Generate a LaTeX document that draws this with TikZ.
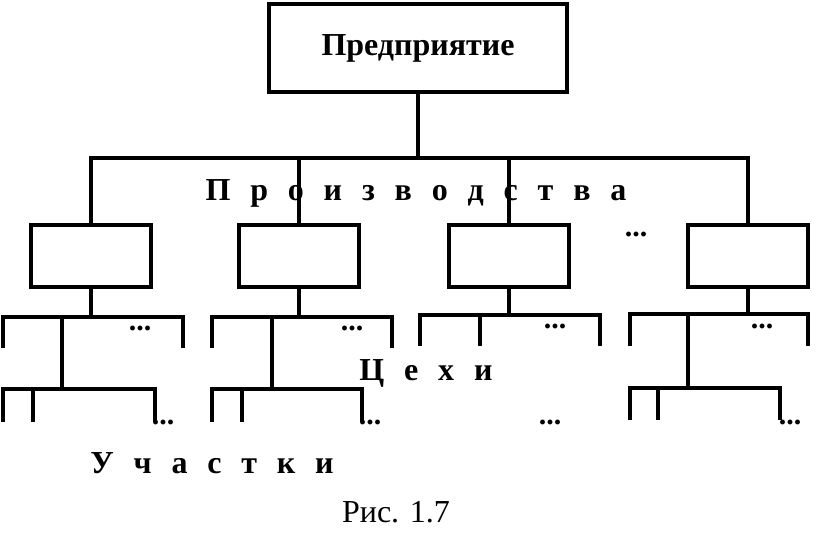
\documentclass[tikz,border=0pt]{standalone}
\usepackage{fontspec}
\setmainfont{Liberation Serif}
\usetikzlibrary{positioning}
\newcommand{\gap}{\hspace{0.62em}}
\tikzset{x=1pt, y=-1pt,
    every path/.style={line width=4pt},
    unit/.style={
        draw,
        line width=4pt,
        minimum width=120pt,
        minimum height=62pt},
    dots/.style={font=\bfseries\fontsize{30}{30}\selectfont, inner sep=0pt},
    level/.style={font=\bfseries\fontsize{32}{34}\selectfont}}

\begin{document}
\begin{tikzpicture}
        \useasboundingbox (0,0) rectangle (823,552);
        \node[draw, line width=4pt, minimum width=298pt, minimum height=88pt,
              font=\bfseries\fontsize{32}{34}\selectfont] (ent) at (418,48) {Предприятие};
        \node[unit] (p1) at (91,256) {};
        \node[unit] (p2) at (299,256) {};
        \node[unit] (p3) at (509,256) {};
        \node[unit] (p4) at (748,256) {};
        \node[dots] (pd) at (636,234) {...};
        % bus under the enterprise
        \draw (ent.south) -- (418,158);
        \draw (p1.north) -- (91,158) -- (748,158) -- (p4.north);
        \draw (p2.north) -- (299,158);
        \draw (p3.north) -- (509,158);
        \node[level] (prod) at (416,193) {П\gap р\gap о\gap и\gap з\gap в\gap о\gap д\gap с\gap т\gap в\gap а};
        % shops
        \draw (p1.south) -- (91,317);
        \draw (3,348) -- (3,317) -- (183,317) -- (183,348);
        \draw (62,317) -- (62,389);
        \draw (3,422) -- (3,389) -- (155,389) -- (155,422);
        \draw (33,389) -- (33,422);
        \draw (p2.south) -- (299,317);
        \draw (212,348) -- (212,317) -- (392,317) -- (392,348);
        \draw (272,317) -- (272,389);
        \draw (212,422) -- (212,389) -- (362,389) -- (362,422);
        \draw (242,389) -- (242,422);
        \draw (p3.south) -- (509,315);
        \draw (420,346) -- (420,315) -- (600,315) -- (600,346);
        \draw (480,315) -- (480,346);
        \draw (p4.south) -- (748,314);
        \draw (630,346) -- (630,314) -- (808,314) -- (808,346);
        \draw (688,314) -- (688,388);
        \draw (630,420) -- (630,388) -- (780,388) -- (780,420);
        \draw (658,388) -- (658,420);
        \node[dots] at (140,328) {...};
        \node[dots] at (352,328) {...};
        \node[dots] at (555,326) {...};
        \node[dots] at (762,326) {...};
        \node[dots] at (163,422) {...};
        \node[dots] at (370,422) {...};
        \node[dots] at (550,422) {...};
        \node[dots] at (790,422) {...};
        \node[level] (shop) at (426,373) {Ц\gap е\gap х\gap и};
        \node[level] (sect) at (212,463) {У\gap ч\gap а\gap с\gap т\gap к\gap и};
        \node[font=\fontsize{32}{34}\selectfont] (cap) at (396,512) {Рис. 1.7};
    \end{tikzpicture}
\end{document}
